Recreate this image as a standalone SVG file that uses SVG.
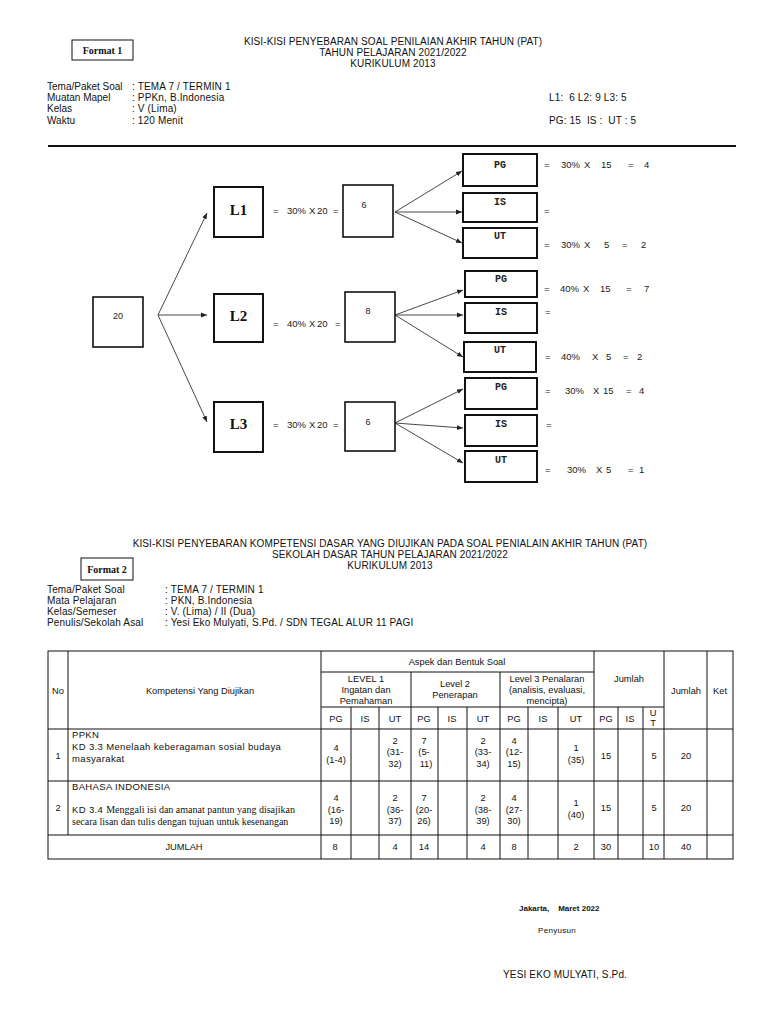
<svg xmlns="http://www.w3.org/2000/svg" width="768" height="1024" viewBox="0 0 768 1024">
<style>
text{white-space:pre}
.s{font-family:"Liberation Sans",Arial,sans-serif;font-size:10px;letter-spacing:0.15px;fill:#111}
.sl{font-family:"Liberation Sans",Arial,sans-serif;font-size:10px;letter-spacing:0px;fill:#111}
.t{font-family:"Liberation Sans",Arial,sans-serif;font-size:10px;letter-spacing:0.1px;fill:#111}
.c{text-anchor:middle}
.tb{font-family:"Liberation Sans",Arial,sans-serif;font-size:9.3px;fill:#111}
.rw{font-family:"Liberation Sans",Arial,sans-serif;font-size:9.5px;letter-spacing:0.35px;fill:#111}
.tr{font-family:"Liberation Serif","Times New Roman",serif;font-size:10px;letter-spacing:0px;fill:#111}
.fm{font-family:"Liberation Serif","Times New Roman",serif;font-size:10px;font-weight:bold;fill:#111}
.L{font-family:"Liberation Serif","Times New Roman",serif;font-size:15px;font-weight:bold;fill:#111;text-anchor:middle}
.m{font-family:"Liberation Mono","Courier New",monospace;font-size:10px;font-weight:bold;fill:#222;text-anchor:middle}
.n{font-family:"Liberation Sans",Arial,sans-serif;font-size:9px;fill:#222;text-anchor:middle}
.eq{font-family:"Liberation Sans",Arial,sans-serif;font-size:9.5px;fill:#222}
.bx{fill:#fff;stroke:#111;stroke-width:1.6}
.bx2{fill:#fff;stroke:#111;stroke-width:2}
.ln{stroke:#333;stroke-width:0.9;fill:none;marker-end:url(#ah)}
.g{stroke:#111;stroke-width:1;fill:none}
.sig{font-family:"Liberation Sans",Arial,sans-serif;font-size:8px;fill:#111}
</style>
<defs>
<marker id="ah" viewBox="0 0 10 10" refX="10" refY="5" markerWidth="6" markerHeight="6" orient="auto" markerUnits="userSpaceOnUse">
<path d="M0,1 L10,5 L0,9 z" fill="#222"/>
</marker>
</defs>
<rect width="768" height="1024" fill="#fff"/>

<g id="format1">
<rect x="72" y="40" width="61" height="20" fill="#fff" stroke="#111" stroke-width="1"/>
<text class="fm" x="102.5" y="54" text-anchor="middle">Format 1</text>
</g>
<g id="title1">
<text class="t c" x="393" y="45">KISI-KISI PENYEBARAN SOAL PENILAIAN AKHIR TAHUN (PAT)</text>
<text class="t c" x="393" y="56">TAHUN PELAJARAN 2021/2022</text>
<text class="t c" x="393" y="67">KURIKULUM 2013</text>
</g>
<g id="info1">
<text class="sl" x="47" y="90">Tema/Paket Soal</text>
<text class="s" x="132" y="90">: TEMA 7 / TERMIN 1</text>
<text class="sl" x="47" y="101">Muatan Mapel</text>
<text class="s" x="132" y="101">: PPKn, B.Indonesia</text>
<text class="sl" x="47" y="112">Kelas</text>
<text class="s" x="132" y="112">: V (Lima)</text>
<text class="sl" x="47" y="124">Waktu</text>
<text class="s" x="132" y="124">: 120 Menit</text>
<text class="s" x="549" y="101">L1:  6 L2: 9 L3: 5</text>
<text class="s" x="549" y="124">PG: 15  IS :  UT : 5</text>
</g>
<line x1="48" y1="146" x2="736" y2="146" stroke="#111" stroke-width="1.8"/>

<g id="connectors">
<line class="ln" x1="158" y1="315" x2="207" y2="213"/>
<line class="ln" x1="158" y1="315" x2="207" y2="315"/>
<line class="ln" x1="158" y1="315" x2="207" y2="422"/>
<line class="ln" x1="395" y1="212" x2="462" y2="171"/>
<line class="ln" x1="395" y1="212" x2="462" y2="212"/>
<line class="ln" x1="395" y1="212" x2="462" y2="243"/>
<line class="ln" x1="395" y1="315" x2="463" y2="290"/>
<line class="ln" x1="395" y1="315" x2="463" y2="315"/>
<line class="ln" x1="395" y1="315" x2="463" y2="357"/>
<line class="ln" x1="395" y1="423" x2="463" y2="389"/>
<line class="ln" x1="395" y1="423" x2="463" y2="428"/>
<line class="ln" x1="395" y1="423" x2="463" y2="463"/>
</g>

<g id="n20"><rect class="bx" x="93" y="297" width="50" height="50"/><text class="n" x="118" y="319">20</text></g>
<g id="L1"><rect class="bx2" x="214" y="187" width="49" height="50"/><text class="L" x="238.5" y="215">L1</text></g>
<g id="L2"><rect class="bx2" x="214" y="294" width="49" height="48"/><text class="L" x="238.5" y="321">L2</text></g>
<g id="L3"><rect class="bx2" x="214" y="402" width="49" height="50"/><text class="L" x="238.5" y="429">L3</text></g>

<g id="eqL">
<text class="eq" y="214"><tspan x="273">=</tspan><tspan x="287">30%</tspan><tspan x="309">X</tspan><tspan x="317">20</tspan><tspan x="333">=</tspan></text>
<text class="eq" y="327"><tspan x="273">=</tspan><tspan x="287">40%</tspan><tspan x="309">X</tspan><tspan x="317">20</tspan><tspan x="335">=</tspan></text>
<text class="eq" y="428"><tspan x="273">=</tspan><tspan x="287">30%</tspan><tspan x="309">X</tspan><tspan x="317">20</tspan><tspan x="333">=</tspan></text>
</g>

<g id="n6a"><rect class="bx" x="343" y="185" width="50" height="52"/><text class="n" x="364" y="208">6</text></g>
<g id="n8"><rect class="bx" x="345" y="292" width="50" height="50"/><text class="n" x="368" y="314">8</text></g>
<g id="n6b"><rect class="bx" x="345" y="402" width="50" height="49"/><text class="n" x="368" y="425">6</text></g>

<g id="pg1"><rect class="bx2" x="463" y="154" width="74" height="32"/><text class="m" x="500" y="168">PG</text></g>
<g id="is1"><rect class="bx2" x="463" y="193" width="74" height="29"/><text class="m" x="500" y="205">IS</text></g>
<g id="ut1"><rect class="bx2" x="463" y="228" width="74" height="30"/><text class="m" x="500" y="239">UT</text></g>
<g id="pg2"><rect class="bx2" x="465" y="271" width="72" height="26"/><text class="m" x="501" y="282">PG</text></g>
<g id="is2"><rect class="bx2" x="465" y="303" width="72" height="30"/><text class="m" x="501" y="315">IS</text></g>
<g id="ut2"><rect class="bx2" x="464" y="342" width="72" height="30"/><text class="m" x="500" y="353">UT</text></g>
<g id="pg3"><rect class="bx2" x="465" y="378" width="72" height="31"/><text class="m" x="501" y="390">PG</text></g>
<g id="is3"><rect class="bx2" x="465" y="415" width="72" height="31"/><text class="m" x="501" y="427">IS</text></g>
<g id="ut3"><rect class="bx2" x="465" y="451" width="72" height="31"/><text class="m" x="501" y="463">UT</text></g>

<g id="eqR">
<text class="eq" y="168"><tspan x="544">=</tspan><tspan x="561">30%</tspan><tspan x="584">X</tspan><tspan x="601">15</tspan><tspan x="628">=</tspan><tspan x="644">4</tspan></text>
<text class="eq" x="544" y="214">=</text>
<text class="eq" y="248"><tspan x="544">=</tspan><tspan x="561">30%</tspan><tspan x="584">X</tspan><tspan x="604">5</tspan><tspan x="622">=</tspan><tspan x="641">2</tspan></text>
<text class="eq" y="292"><tspan x="544">=</tspan><tspan x="560">40%</tspan><tspan x="583">X</tspan><tspan x="600">15</tspan><tspan x="626">=</tspan><tspan x="644">7</tspan></text>
<text class="eq" x="545" y="315">=</text>
<text class="eq" y="360"><tspan x="545">=</tspan><tspan x="561">40%</tspan><tspan x="592">X</tspan><tspan x="606">5</tspan><tspan x="623">=</tspan><tspan x="637">2</tspan></text>
<text class="eq" y="394"><tspan x="545">=</tspan><tspan x="565">30%</tspan><tspan x="593">X</tspan><tspan x="603">15</tspan><tspan x="626">=</tspan><tspan x="639">4</tspan></text>
<text class="eq" x="546" y="428">=</text>
<text class="eq" y="473"><tspan x="545">=</tspan><tspan x="567">30%</tspan><tspan x="596">X</tspan><tspan x="606">5</tspan><tspan x="628">=</tspan><tspan x="639">1</tspan></text>
</g>

<g id="title2">
<text class="t c" x="390" y="547">KISI-KISI PENYEBARAN KOMPETENSI DASAR YANG DIUJIKAN PADA SOAL PENIALAIN AKHIR TAHUN (PAT)</text>
<text class="t c" x="390" y="558">SEKOLAH DASAR TAHUN PELAJARAN 2021/2022</text>
<text class="t c" x="390" y="569">KURIKULUM 2013</text>
</g>
<g id="format2">
<rect x="81" y="558" width="52" height="22" fill="#fff" stroke="#111" stroke-width="1"/>
<text class="fm" x="107" y="573" text-anchor="middle">Format 2</text>
</g>
<g id="info2">
<text class="s" x="47" y="593">Tema/Paket Soal</text>
<text class="s" x="165" y="593">: TEMA 7 / TERMIN 1</text>
<text class="s" x="47" y="604">Mata Pelajaran</text>
<text class="s" x="165" y="604">: PKN, B.Indonesia</text>
<text class="s" x="47" y="615">Kelas/Semeser</text>
<text class="s" x="165" y="615">: V. (Lima) / II (Dua)</text>
<text class="s" x="47" y="626">Penulis/Sekolah Asal</text>
<text class="s" x="165" y="626">: Yesi Eko Mulyati, S.Pd. / SDN TEGAL ALUR 11 PAGI</text>
</g>

<g id="table">
<rect class="g" x="48" y="651" width="685" height="208"/>
<path class="g" d="M68 651V835 M321 651V859 M321 672H594 M321 707H664 M48 729H733 M48 781H733 M48 835H733
M411 672V859 M500 672V859 M594 651V859 M664 651V859 M707 651V859
M351 707V859 M379 707V859 M438 707V859 M467 707V859 M528 707V859 M558 707V859 M618 707V859 M643 707V859"/>
<g class="tb" text-anchor="middle">
<text x="457" y="665">Aspek dan Bentuk Soal</text>
<text x="366" y="682">LEVEL 1</text>
<text x="366" y="693">Ingatan dan</text>
<text x="366" y="704">Pemahaman</text>
<text x="455" y="687">Level 2</text>
<text x="455" y="698">Penerapan</text>
<text x="547" y="682">Level 3 Penalaran</text>
<text x="547" y="693">(analisis, evaluasi,</text>
<text x="547" y="704">mencipta)</text>
<text x="629" y="682">Jumlah</text>
<text x="58" y="694">No</text>
<text x="200" y="694">Kompetensi Yang Diujikan</text>
<text x="686" y="694">Jumlah</text>
<text x="720" y="694">Ket</text>
<text x="336" y="722">PG</text><text x="365" y="722">IS</text><text x="395" y="722">UT</text>
<text x="424" y="722">PG</text><text x="452" y="722">IS</text><text x="483" y="722">UT</text>
<text x="514" y="722">PG</text><text x="543" y="722">IS</text><text x="576" y="722">UT</text>
<text x="606" y="722">PG</text><text x="630" y="722">IS</text>
<text x="653" y="716">U</text><text x="653" y="726">T</text>

<text x="58" y="759">1</text>
<text x="336" y="751">4</text><text x="336" y="763">(1-4)</text>
<text x="395" y="744">2</text><text x="395" y="755">(31-</text><text x="395" y="767">32)</text>
<text x="424" y="744">7</text><text x="424" y="755">(5-</text><text x="426" y="767">11)</text>
<text x="483" y="744">2</text><text x="483" y="755">(33-</text><text x="483" y="767">34)</text>
<text x="514" y="744">4</text><text x="514" y="755">(12-</text><text x="514" y="767">15)</text>
<text x="576" y="751">1</text><text x="576" y="763">(35)</text>
<text x="606" y="759">15</text><text x="654" y="759">5</text><text x="686" y="759">20</text>

<text x="58" y="811">2</text>
<text x="336" y="801">4</text><text x="336" y="813">(16-</text><text x="336" y="824">19)</text>
<text x="395" y="801">2</text><text x="395" y="813">(36-</text><text x="395" y="824">37)</text>
<text x="424" y="801">7</text><text x="424" y="813">(20-</text><text x="424" y="824">26)</text>
<text x="483" y="801">2</text><text x="483" y="813">(38-</text><text x="483" y="824">39)</text>
<text x="514" y="801">4</text><text x="514" y="813">(27-</text><text x="514" y="824">30)</text>
<text x="576" y="806">1</text><text x="576" y="818">(40)</text>
<text x="606" y="811">15</text><text x="654" y="811">5</text><text x="686" y="811">20</text>

<text x="184" y="850">JUMLAH</text>
<text x="335" y="850">8</text><text x="395" y="850">4</text><text x="424" y="850">14</text>
<text x="483" y="850">4</text><text x="514" y="850">8</text><text x="576" y="850">2</text>
<text x="606" y="850">30</text><text x="654" y="850">10</text><text x="686" y="850">40</text>
</g>
<text class="rw" x="72" y="738">PPKN</text>
<text class="rw" x="72" y="750">KD 3.3 Menelaah keberagaman sosial budaya</text>
<text class="rw" x="72" y="762">masyarakat</text>
<text class="rw" x="72" y="790">BAHASA INDONESIA</text>
<text class="rw" x="72" y="813">KD 3.4 <tspan class="tr">Menggali isi dan amanat pantun yang disajikan</tspan></text>
<text class="tr" x="72" y="825">secara lisan dan tulis dengan tujuan untuk kesenangan</text>
</g>

<g id="signature">
<text class="sig" x="519" y="911" font-weight="bold">Jakarta,    Maret 2022</text>
<text class="sig" x="538" y="933" letter-spacing="0.3">Penyusun</text>
<text class="s" x="503" y="978">YESI EKO MULYATI, S.Pd.</text>
</g>
</svg>
